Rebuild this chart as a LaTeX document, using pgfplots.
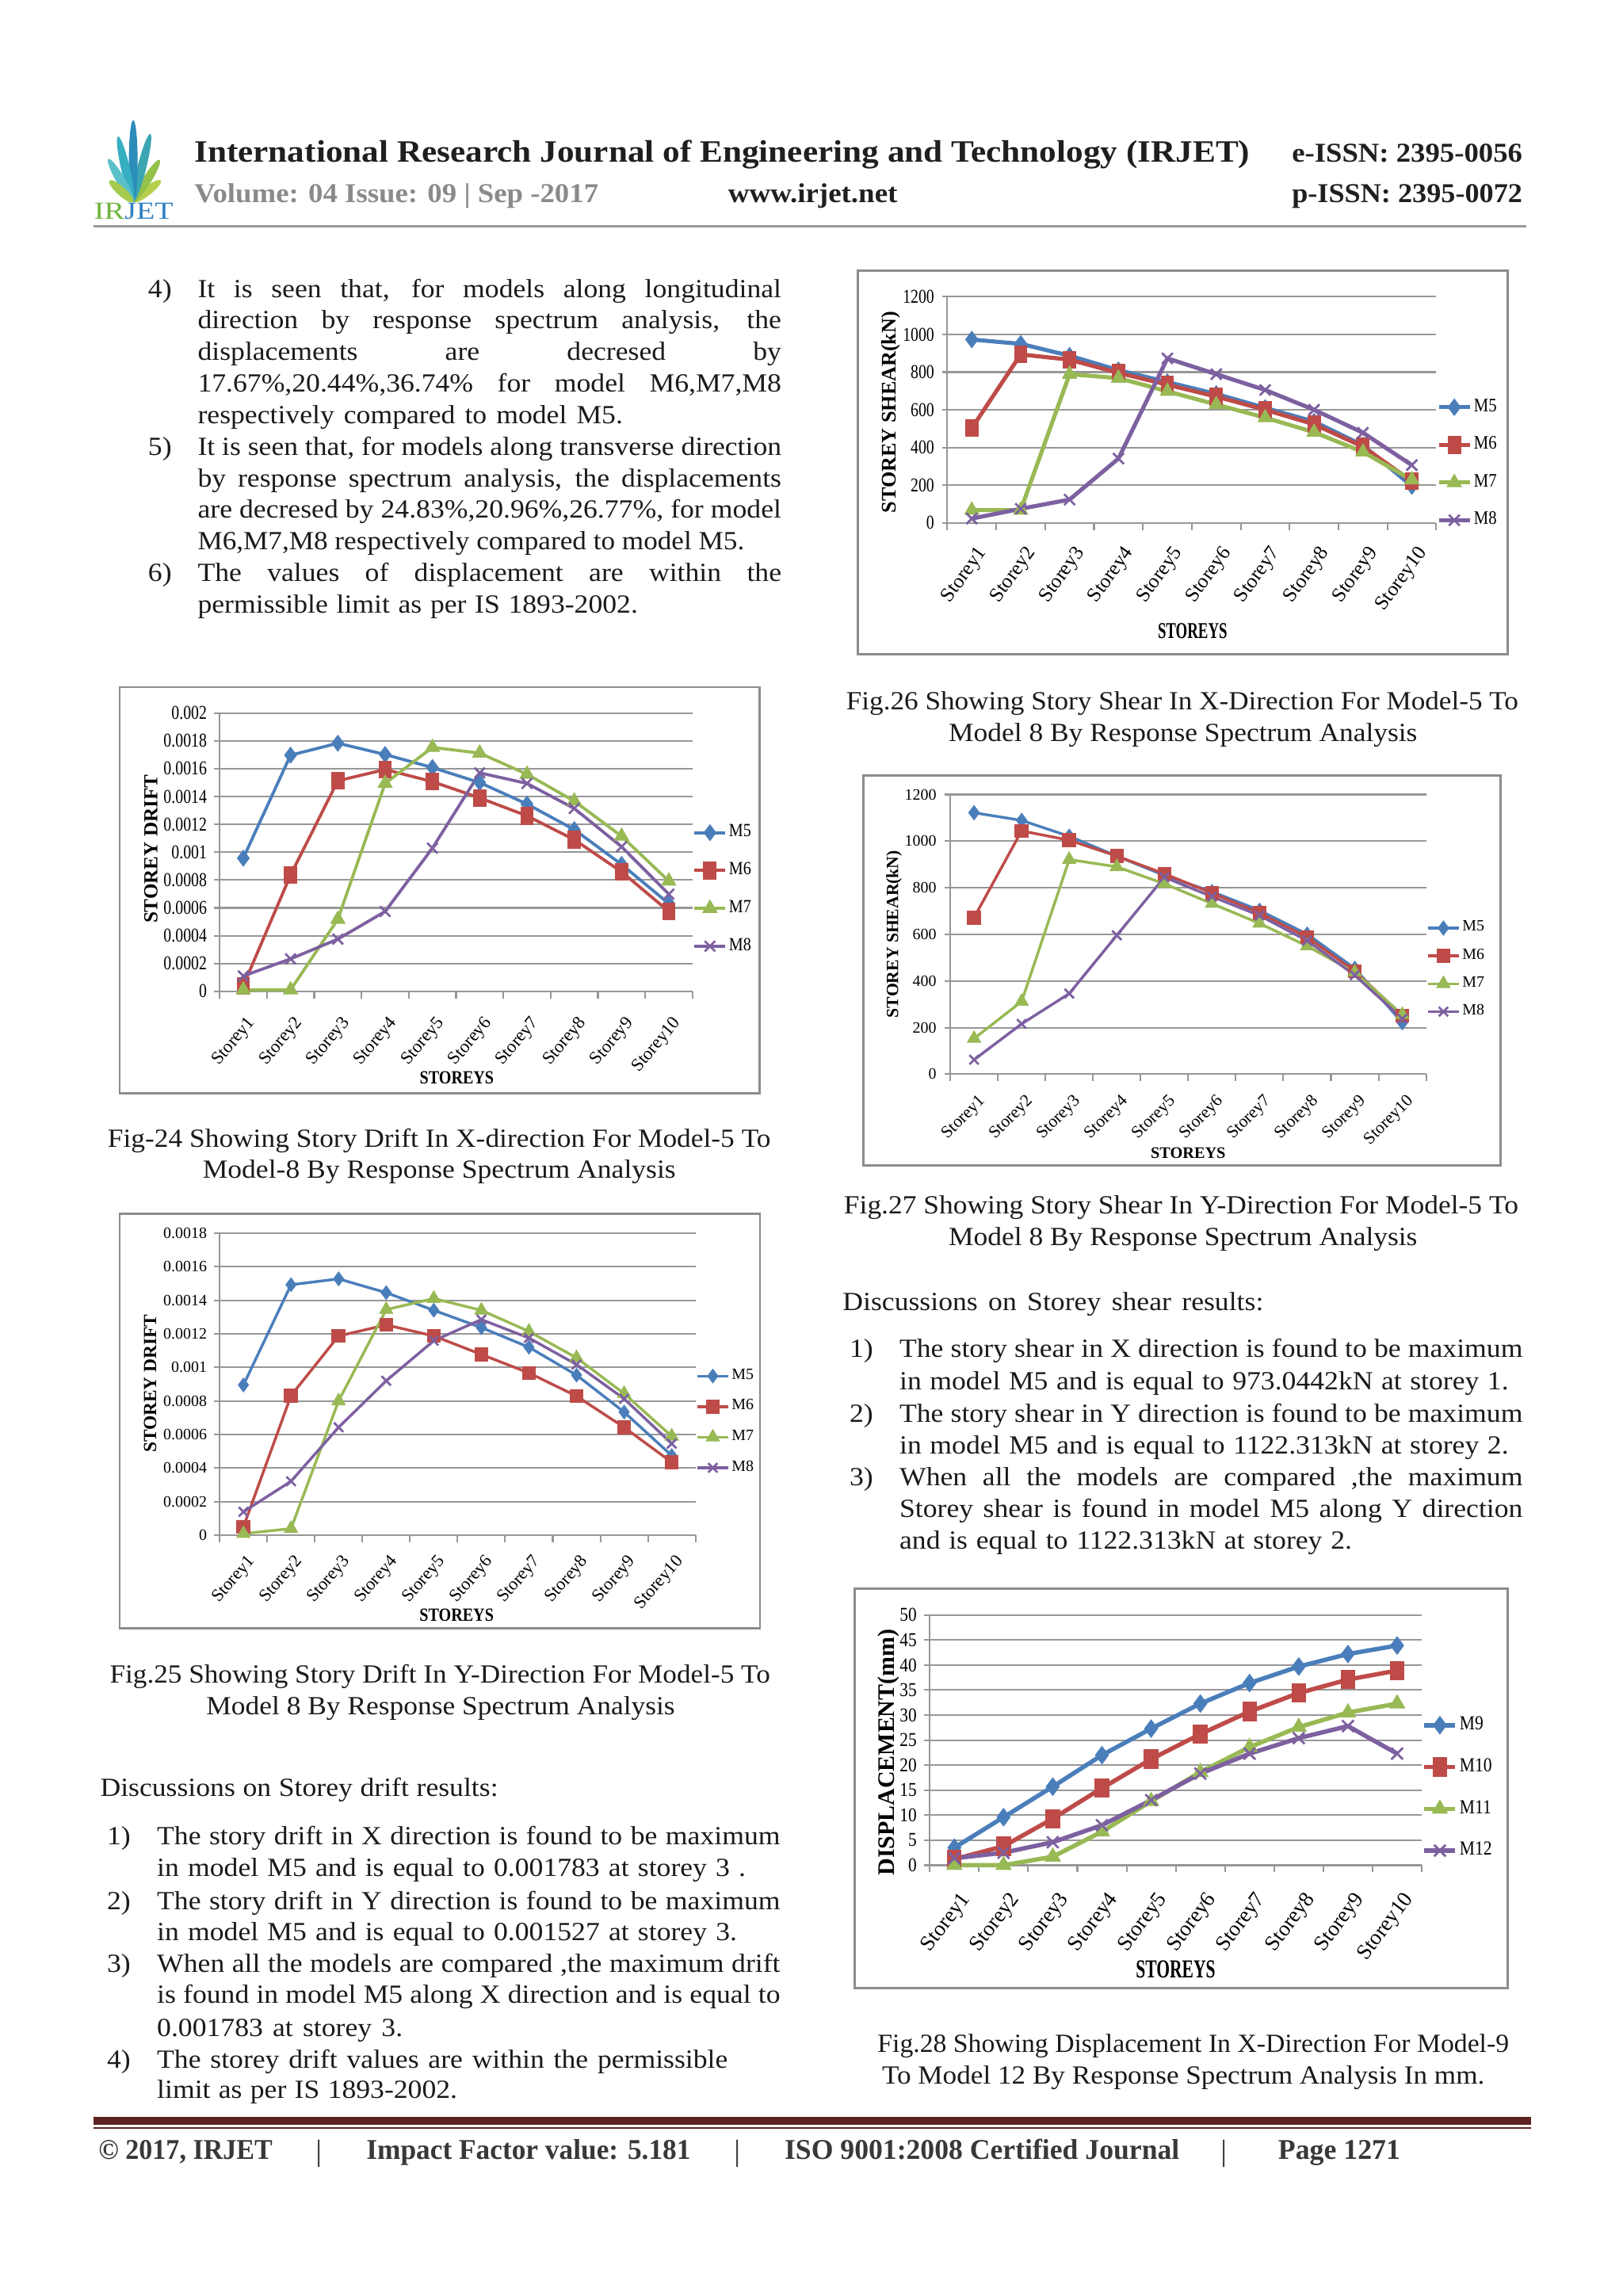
\documentclass[border=0pt]{standalone}
\usepackage{fontspec}
\setmainfont{Liberation Serif}[FakeStretch=1.08]
\newfontfamily\cf{Liberation Serif}
\newfontfamily\cfa{Liberation Serif}[FakeStretch=0.8]
\newfontfamily\cfb{Liberation Serif}[FakeStretch=0.86]
\newfontfamily\cfc{Liberation Serif}[FakeStretch=0.66]
\usepackage{graphicx}
\usepackage{pgfplots}
\pgfplotsset{compat=1.18}
\newdimen\U \U=0.5372pt
\definecolor{cM5}{HTML}{4A7EBB}
\definecolor{cM6}{HTML}{BE4B48}
\definecolor{cM7}{HTML}{98B954}
\definecolor{cM8}{HTML}{7D60A0}
\definecolor{gridc}{HTML}{979797}
\definecolor{framec}{HTML}{8C8C8C}
\definecolor{foot}{HTML}{5E2222}
\definecolor{txt}{HTML}{1A1A1A}
\newcommand\FitBox[2]{\sbox0{#2}\ifdim\wd0>#1\relax\resizebox{#1}{\height}{#2}\else\makebox[#1][s]{#2}\fi}
\newcommand\TL[4]{\node[anchor=base west,inner sep=0pt] at (#1,#2) {\FitBox{#3\U}{#4}};}
\newcommand\TC[4]{\node[anchor=base,inner sep=0pt] at (#1,#2) {\FitBox{#3\U}{#4}};}
\newcommand\RL[4]{\node[anchor=base west,inner sep=0pt] at (#1,#2) {\resizebox{#3\U}{\height}{#4}};}
\pgfplotsset{
  exc/.style={scale only axis, clip=false, anchor=south west,
    xmin=0.5, xmax=10.5, ymin=0, scaled y ticks=false,
    xtick={1,...,10}, xticklabels={Storey1,Storey2,Storey3,Storey4,Storey5,Storey6,Storey7,Storey8,Storey9,Storey10},
    minor xtick={0.5,1.5,...,10.5},
    axis x line*=bottom, axis y line*=left,
    axis line style={-, draw=gridc, line width=0.6pt},
    ymajorgrids, grid style={draw=gridc, line width=0.6pt},
    tick align=outside, major tick length=2pt, minor tick length=2.6pt,
    tick style={draw=gridc, line width=0.6pt},
    major x tick style={draw=none},
    yticklabel style={anchor=east, inner sep=0pt},
    legend cell align=left,
    legend style={draw=none, fill=none, inner sep=0pt, anchor=west, nodes={inner xsep=0.8pt}},
    legend image code/.code={\draw[mark repeat=2,mark phase=2,##1] plot coordinates {(0pt,0pt) (5.65pt,0pt) (11.3pt,0pt)};},
  },
  m5/.style={color=cM5, mark=diamond*, mark options={solid, line width=0.3pt, #1}}, m5/.default={},
  m6/.style={color=cM6, mark=square*, mark options={solid, line width=0.3pt, #1}}, m6/.default={},
  m7/.style={color=cM7, mark=triangle*, mark options={solid, line width=0.3pt, #1}}, m7/.default={},
  m8/.style={color=cM8, mark=x, mark options={solid, line width=0.8pt, #1}}, m8/.default={},
}
\begin{document}
\begin{tikzpicture}[x=0.5372pt,y=-0.5372pt]
\fill[white] (0,0) rectangle (1108,1568);
% ---------- header ----------
\foreach \a/\l/\c in {-52/24/B7D04C,-32/34/93C24A,-14/48/3AA6B2,0/56/2B8DBA,13/46/36AFC2,30/34/5BC1C9,48/22/A6CB4E}{
  \definecolor{lc}{HTML}{\c}
  \fill[lc, rotate around={\a:(91,138)}] (91,138-\l/2) ellipse (3 and \l/2);
}
\node[anchor=base west,inner sep=0pt] at (64,149.5) {\resizebox{54\U}{\height}{\fontsize{9}{10}\selectfont\color[HTML]{6FB43F}IR\color[HTML]{2F7FC1}JET}};
\begin{scope}[every node/.append style={text=black!88}]
\RL{132.4}{110.9}{720.9}{\bfseries\fontsize{11.4}{13}\selectfont International Research Journal of Engineering and Technology (IRJET)}
\RL{882}{110.9}{157.4}{\bfseries\fontsize{10}{12}\selectfont e-ISSN: 2395-0056}
\RL{497}{138.5}{115.6}{\bfseries\fontsize{10}{12}\selectfont www.irjet.net}
\RL{882}{138.5}{157.4}{\bfseries\fontsize{10}{12}\selectfont p-ISSN: 2395-0072}
\end{scope}
\RL{132.4}{138.5}{276}{\color[HTML]{8A8A8A}\bfseries\fontsize{10}{12}\selectfont Volume: 04 Issue: 09 | Sep -2017}
\draw[color={rgb,255:red,155;green,155;blue,155}, line width=1pt] (63.7,154.6) -- (1042.6,154.6);
% ---------- body text ----------
\begin{scope}[every node/.append style={font=\fontsize{9.6}{11}\selectfont, text=txt}]
\node[anchor=base west,inner sep=0pt] at (100.8,203) {4)};
\node[anchor=base west,inner sep=0pt] at (100.8,310.8) {5)};
\node[anchor=base west,inner sep=0pt] at (100.8,397) {6)};
\TL{134.7}{203}{398.6}{It is seen that, for models along longitudinal}
\TL{134.7}{224.6}{398.6}{direction by response spectrum analysis, the}
\TL{134.7}{246.1}{398.6}{displacements are decresed by}
\TL{134.7}{267.7}{398.6}{17.67\%,20.44\%,36.74\% for model M6,M7,M8}
\TL{134.7}{289.2}{290.3}{respectively compared to model M5.}
\TL{134.7}{310.8}{398.6}{It is seen that, for models along transverse direction}
\TL{134.7}{332.4}{398.6}{by response spectrum analysis, the displacements}
\TL{134.7}{353.9}{398.6}{are decresed by 24.83\%,20.96\%,26.77\%, for model}
\TL{134.7}{375.5}{373.3}{M6,M7,M8 respectively compared to model M5.}
\TL{134.7}{397}{398.6}{The values of displacement are within the}
\TL{134.7}{418.6}{300.6}{permissible limit as per IS 1893-2002.}
% right column
\TL{575.2}{894.7}{287.4}{Discussions on Storey shear results:}
\node[anchor=base west,inner sep=0pt] at (579.9,927.1) {1)};
\node[anchor=base west,inner sep=0pt] at (579.9,971.3) {2)};
\node[anchor=base west,inner sep=0pt] at (579.9,1014.6) {3)};
\TL{614}{927.1}{425.6}{The story shear in X direction is found to be maximum}
\TL{614}{949.1}{416}{in model M5 and is equal to 973.0442kN at storey 1.}
\TL{614}{971.3}{425.6}{The story shear in Y direction is found to be maximum}
\TL{614}{992.9}{416}{in model M5 and is equal to 1122.313kN at storey 2.}
\TL{614}{1014.6}{425.6}{When all the models are compared ,the maximum}
\TL{614}{1036.3}{425.6}{Storey shear is found in model M5 along Y direction}
\TL{614}{1057.9}{309}{and is equal to 1122.313kN at storey 2.}
% left bottom
\TL{68.1}{1226.6}{271.8}{Discussions on Storey drift results:}
\node[anchor=base west,inner sep=0pt] at (72.7,1259.9) {1)};
\node[anchor=base west,inner sep=0pt] at (72.7,1304.1) {2)};
\node[anchor=base west,inner sep=0pt] at (72.7,1347) {3)};
\node[anchor=base west,inner sep=0pt] at (72.7,1412.3) {4)};
\TL{106.9}{1259.9}{425.6}{The story drift in X direction is found to be maximum}
\TL{106.9}{1281.6}{402.1}{in model M5 and is equal to 0.001783 at storey 3 .}
\TL{106.9}{1304.1}{425.6}{The story drift in Y direction is found to be maximum}
\TL{106.9}{1325.4}{396.1}{in model M5 and is equal to 0.001527 at storey 3.}
\TL{106.9}{1347}{425.6}{When all the models are compared ,the maximum drift}
\TL{106.9}{1368.1}{425.6}{is found in model M5 along X direction and is equal to}
\TL{106.9}{1390.7}{167.8}{0.001783 at storey 3.}
\TL{106.9}{1412.3}{389.8}{The storey drift values are within the permissible}
\TL{106.9}{1433.1}{205.1}{limit as per IS 1893-2002.}
% captions
\TC{300}{783.7}{452.8}{Fig-24 Showing Story Drift In X-direction For Model-5 To}
\TC{300}{804.8}{323.1}{Model-8 By Response Spectrum Analysis}
\TC{300.5}{1149.5}{451}{Fig.25 Showing Story Drift In Y-Direction For Model-5 To}
\TC{301}{1171.2}{320}{Model 8 By Response Spectrum Analysis}
\TC{807.5}{484.7}{459}{Fig.26 Showing Story Shear In X-Direction For Model-5 To}
\TC{808}{506.4}{320}{Model 8 By Response Spectrum Analysis}
\TC{806.7}{828.8}{460.6}{Fig.27 Showing Story Shear In Y-Direction For Model-5 To}
\TC{808}{850.4}{320}{Model 8 By Response Spectrum Analysis}
\TC{815}{1401.5}{431.2}{Fig.28 Showing Displacement In X-Direction For Model-9}
\TC{808.2}{1423.1}{411.5}{To Model 12 By Response Spectrum Analysis In mm.}
\end{scope}
% ---------- footer ----------
\fill[foot] (63.7,1445.7) rectangle (1045.9,1451.1);
\fill[foot] (63.7,1452.5) rectangle (1045.9,1453.9);
\begin{scope}[every node/.append style={text=black!78}]
\RL{67}{1474.6}{118.7}{\bfseries\fontsize{10.5}{12}\selectfont © 2017, IRJET}
\RL{249.9}{1474.6}{221.4}{\bfseries\fontsize{10.5}{12}\selectfont Impact Factor value: 5.181}
\RL{535.5}{1474.6}{269.7}{\bfseries\fontsize{10.5}{12}\selectfont ISO 9001:2008 Certified Journal}
\RL{872.6}{1474.6}{83.4}{\bfseries\fontsize{10.5}{12}\selectfont Page 1271}
\node[anchor=base,inner sep=0pt,font=\fontsize{11}{12}\selectfont] at (217.8,1475.5) {|};
\node[anchor=base,inner sep=0pt,font=\fontsize{11}{12}\selectfont] at (503.5,1475.5) {|};
\node[anchor=base,inner sep=0pt,font=\fontsize{11}{12}\selectfont] at (835.9,1475.5) {|};
\end{scope}
% ---------- chart frames ----------
\draw[framec, line width=0.8pt] (81.7,469.2) rectangle (518.9,746.8);
\draw[framec, line width=0.8pt] (81.7,829) rectangle (519,1112);
\draw[framec, line width=0.8pt] (586,185) rectangle (1029.7,447);
\draw[framec, line width=0.8pt] (589.8,529.8) rectangle (1024.9,796);
\draw[framec, line width=0.8pt] (583.9,1085) rectangle (1029.7,1357.7);
\coordinate (oA) at (150,677);
\coordinate (oB) at (150,1048.5);
\coordinate (oC) at (647,357);
\coordinate (oD) at (649,733.6);
\coordinate (oE) at (635,1273.8);
% ---------- Fig 24 ----------
\begin{axis}[exc, at={(oA)}, width=173.5pt, height=102.1pt, ymax=0.002,
  ytick={0,0.0002,0.0004,0.0006,0.0008,0.001,0.0012,0.0014,0.0016,0.0018,0.002},
  yticklabels={0,0.0002,0.0004,0.0006,0.0008,0.001,0.0012,0.0014,0.0016,0.0018,0.002},
  yticklabel style={font=\cfa\fontsize{7.2}{8}\selectfont, xshift=-2.5pt},
  xticklabel style={font=\cf\fontsize{6.6}{8}\selectfont, xshift=1pt, yshift=-6.5pt, rotate=50, anchor=north east, inner sep=0pt},
  ylabel={STOREY DRIFT}, ylabel style={font=\cf\bfseries\fontsize{7.3}{8}\selectfont, at={(axis description cs:-0.1455,0.511)}, anchor=center},
  xlabel={STOREYS}, xlabel style={font=\cfb\bfseries\fontsize{6.8}{8}\selectfont, at={(axis description cs:0.5015,-0.311)}, anchor=center},
  legend style={at={(1,0.366)}, font=\cfb\fontsize{6.8}{8}\selectfont, row sep=3.9pt},
  every axis plot/.append style={line width=1.1pt}]
\addplot[m5, mark size=2.9pt] coordinates {(1,0.000957)(2,0.001697)(3,0.001783)(4,0.001702)(5,0.001608)(6,0.0015)(7,0.001346)(8,0.001162)(9,0.000912)(10,0.00063)};
\addplot[m6={xscale=0.74}, mark size=3.1pt] coordinates {(1,0.00004)(2,0.000836)(3,0.001513)(4,0.001594)(5,0.001507)(6,0.00139)(7,0.001261)(8,0.00109)(9,0.000859)(10,0.000574)};
\addplot[m7, mark size=3pt] coordinates {(1,0.00001)(2,0.00001)(3,0.000518)(4,0.001494)(5,0.001753)(6,0.001712)(7,0.00156)(8,0.001367)(9,0.001115)(10,0.000792)};
\addplot[m8, mark size=2.7pt] coordinates {(1,0.00011)(2,0.000233)(3,0.000375)(4,0.000574)(5,0.001029)(6,0.00157)(7,0.001494)(8,0.001314)(9,0.001039)(10,0.000698)};
\legend{M5,M6,M7,M8}
\end{axis}
% ---------- Fig 25 ----------
\begin{axis}[exc, at={(oB)}, width=174.6pt, height=110.9pt, ymax=0.0018,
  ytick={0,0.0002,0.0004,0.0006,0.0008,0.001,0.0012,0.0014,0.0016,0.0018},
  yticklabels={0,0.0002,0.0004,0.0006,0.0008,0.001,0.0012,0.0014,0.0016,0.0018},
  yticklabel style={font=\cf\fontsize{5.8}{7}\selectfont, xshift=-2.5pt},
  xticklabel style={font=\cf\fontsize{6.5}{8}\selectfont, xshift=1pt, yshift=-4.5pt, rotate=49, anchor=north east, inner sep=0pt},
  ylabel={STOREY DRIFT}, ylabel style={font=\cf\bfseries\fontsize{6.8}{8}\selectfont, at={(axis description cs:-0.146,0.502)}, anchor=center},
  xlabel={STOREYS}, xlabel style={font=\cfb\bfseries\fontsize{6.8}{8}\selectfont, at={(axis description cs:0.498,-0.264)}, anchor=center},
  legend style={at={(1,0.375)}, font=\cf\fontsize{5.8}{7}\selectfont, row sep=1.9pt},
  every axis plot/.append style={line width=1pt}]
\addplot[m5, mark size=2.5pt] coordinates {(1,0.000895)(2,0.001492)(3,0.001527)(4,0.001445)(5,0.00134)(6,0.001237)(7,0.00112)(8,0.000954)(9,0.000734)(10,0.000475)};
\addplot[m6, mark size=2.4pt] coordinates {(1,0.00005)(2,0.000832)(3,0.001187)(4,0.001253)(5,0.001187)(6,0.001077)(7,0.000967)(8,0.000829)(9,0.000643)(10,0.000435)};
\addplot[m7, mark size=2.8pt] coordinates {(1,0.00001)(2,0.00004)(3,0.0008)(4,0.001344)(5,0.00141)(6,0.00134)(7,0.001214)(8,0.001057)(9,0.000844)(10,0.00059)};
\addplot[m8, mark size=2.4pt] coordinates {(1,0.00014)(2,0.000322)(3,0.000643)(4,0.00092)(5,0.001159)(6,0.001285)(7,0.001175)(8,0.001017)(9,0.000813)(10,0.000546)};
\legend{M5,M6,M7,M8}
\end{axis}
% ---------- Fig 26 ----------
\begin{axis}[exc, at={(oC)}, width=179.4pt, height=82.9pt, ymax=1200,
  ytick={0,200,400,600,800,1000,1200}, yticklabels={0,200,400,600,800,1000,1200},
  yticklabel style={font=\cfa\fontsize{7.2}{8}\selectfont, xshift=-2.6pt},
  xticklabel style={font=\cf\fontsize{7.4}{8}\selectfont, xshift=1.5pt, yshift=-5.8pt, rotate=54, anchor=north east, inner sep=0pt},
  ylabel={STOREY SHEAR(kN)}, ylabel style={font=\cf\bfseries\fontsize{7.6}{8}\selectfont, at={(axis description cs:-0.115,0.489)}, anchor=center},
  xlabel={STOREYS}, xlabel style={font=\cfc\bfseries\fontsize{8.3}{9}\selectfont, at={(axis description cs:0.5015,-0.479)}, anchor=center},
  legend style={at={(1,0.261)}, font=\cfb\fontsize{7}{8}\selectfont, row sep=3.7pt},
  every axis plot/.append style={line width=1.5pt}]
\addplot[m5, mark size=3pt] coordinates {(1,973)(2,950)(3,887)(4,810)(5,747)(6,684)(7,610)(8,537)(9,411)(10,195)};
\addplot[m6={xscale=0.74}, mark size=3.1pt] coordinates {(1,502)(2,894)(3,866)(4,796)(5,733)(6,670)(7,600)(8,523)(9,404)(10,220)};
\addplot[m7, mark size=3pt] coordinates {(1,67)(2,67)(3,789)(4,768)(5,698)(6,628)(7,558)(8,481)(9,376)(10,228)};
\addplot[m8, mark size=2.8pt] coordinates {(1,22)(2,74)(3,123)(4,341)(5,873)(6,789)(7,705)(8,600)(9,478)(10,306)};
\legend{M5,M6,M7,M8}
\end{axis}
% ---------- Fig 27 ----------
\begin{axis}[exc, at={(oD)}, width=174.6pt, height=102.6pt, ymax=1200,
  ytick={0,200,400,600,800,1000,1200}, yticklabels={0,200,400,600,800,1000,1200},
  yticklabel style={font=\cf\fontsize{5.8}{7}\selectfont, xshift=-2.9pt},
  xticklabel style={font=\cf\fontsize{6.3}{7}\selectfont, xshift=1.2pt, yshift=-4.8pt, rotate=45, anchor=north east, inner sep=0pt},
  ylabel={STOREY SHEAR(kN)}, ylabel style={font=\cf\bfseries\fontsize{6.3}{7}\selectfont, at={(axis description cs:-0.118,0.501)}, anchor=center},
  xlabel={STOREYS}, xlabel style={font=\cf\bfseries\fontsize{5.9}{7}\selectfont, at={(axis description cs:0.5,-0.283)}, anchor=center},
  legend style={at={(1,0.373)}, font=\cf\fontsize{5.8}{7}\selectfont, row sep=0.9pt},
  every axis plot/.append style={line width=1pt}]
\addplot[m5, mark size=2.6pt] coordinates {(1,1122)(2,1089)(3,1021)(4,936)(5,853)(6,783)(7,703)(8,601)(9,454)(10,221)};
\addplot[m6, mark size=2.4pt] coordinates {(1,672)(2,1044)(3,1004)(4,936)(5,860)(6,777)(7,692)(8,588)(9,442)(10,252)};
\addplot[m7, mark size=2.8pt] coordinates {(1,153)(2,312)(3,921)(4,890)(5,817)(6,732)(7,647)(8,550)(9,437)(10,255)};
\addplot[m8, mark size=2.4pt] coordinates {(1,62)(2,216)(3,346)(4,596)(5,845)(6,762)(7,681)(8,573)(9,425)(10,238)};
\legend{M5,M6,M7,M8}
\end{axis}
% ---------- Fig 28 ----------
\begin{axis}[exc, at={(oE)}, width=180.5pt, height=91.8pt, ymax=50,
  ytick={0,5,10,15,20,25,30,35,40,45,50}, yticklabels={0,5,10,15,20,25,30,35,40,45,50},
  yticklabel style={font=\cfb\fontsize{7.2}{8}\selectfont, xshift=-2.6pt},
  xticklabel style={font=\cf\fontsize{7.9}{9}\selectfont, xshift=1.7pt, yshift=-7pt, rotate=53, anchor=north east, inner sep=0pt},
  ylabel={DISPLACEMENT(mm)}, ylabel style={font=\cf\bfseries\fontsize{8.7}{9}\selectfont, at={(axis description cs:-0.083,0.451)}, anchor=center},
  xlabel={STOREYS}, xlabel style={font=\cfc\bfseries\fontsize{9.5}{10}\selectfont, at={(axis description cs:0.4997,-0.415)}, anchor=center},
  legend style={at={(1,0.309)}, font=\cfb\fontsize{7.3}{8}\selectfont, row sep=5pt},
  every axis plot/.append style={line width=1.6pt}]
\addplot[m5, mark size=3.2pt] coordinates {(1,3.5)(2,9.6)(3,15.7)(4,22.0)(5,27.3)(6,32.3)(7,36.4)(8,39.7)(9,42.2)(10,43.9)};
\addplot[m6={xscale=0.74}, mark size=3.4pt] coordinates {(1,1.2)(2,3.8)(3,9.3)(4,15.4)(5,21.2)(6,26.2)(7,30.7)(8,34.4)(9,37.1)(10,38.9)};
\addplot[m7, mark size=3.2pt] coordinates {(1,0)(2,0)(3,1.7)(4,6.7)(5,12.8)(6,18.6)(7,23.6)(8,27.6)(9,30.5)(10,32.3)};
\addplot[m8, mark size=3pt] coordinates {(1,1.4)(2,2.5)(3,4.6)(4,8.0)(5,13.0)(6,18.3)(7,22.3)(8,25.4)(9,27.8)(10,22.3)};
\legend{M9,M10,M11,M12}
\end{axis}
\end{tikzpicture}
\end{document}
